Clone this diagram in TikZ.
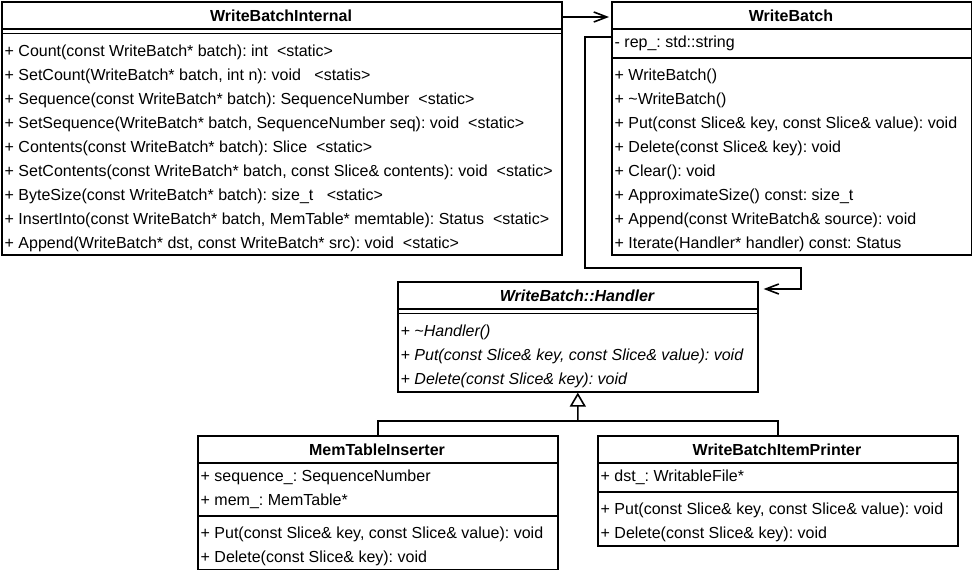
\documentclass[tikz,border=0pt]{standalone}
\usepackage{fontspec}
\setmainfont{Liberation Sans}
\usetikzlibrary{arrows.meta,calc}
\tikzset{
 cls/.style={draw, line width=1.6pt, anchor=north west, inner sep=0pt, fill=white},
 sepline/.style={line width=1.6pt},
 row/.style={anchor=base west, inner sep=0pt, font=\fontsize{16}{19}\selectfont\frenchspacing, yshift=-1.5pt},
 irow/.style={anchor=base west, inner sep=0pt, font=\fontsize{16}{19}\selectfont\itshape\frenchspacing, yshift=-1.5pt},
 ctitle/.style={anchor=base, inner sep=0pt, font=\fontsize{16}{19}\selectfont\bfseries\frenchspacing},
 assoc/.style={line width=1.6pt, -{Straight Barb[length=13pt,width=10pt]}},
 inherit/.style={line width=1.6pt, -{Triangle[open,length=14pt,width=16pt]}},
 bus/.style={line width=1.6pt},
}
\newcommand{\gapsp}{\hspace*{0.28em}}
\begin{document}
\begin{tikzpicture}[x=1pt,y=-1pt]
\useasboundingbox (0,0) rectangle (972,570);

% ---------- WriteBatchInternal ----------
\node[cls, minimum width=560pt, minimum height=253pt] (wbi) at (1,1) {};
\draw[sepline] ($(wbi.north west)+(0,28)$) -- ($(wbi.north east)+(0,28)$);
\draw[sepline] ($(wbi.north west)+(0,32.5)$) -- ($(wbi.north east)+(0,32.5)$);
\node[ctitle] (wbiT) at (281,21) {WriteBatchInternal};
\node[row] (wbi1) at (4.5,55) {+ Count(const WriteBatch* batch): int\gapsp\gapsp<static>};
\node[row] (wbi2) at (4.5,79) {+ SetCount(WriteBatch* batch, int n): void\gapsp\gapsp\gapsp<statis>};
\node[row] (wbi3) at (4.5,103) {+ Sequence(const WriteBatch* batch): SequenceNumber\gapsp\gapsp<static>};
\node[row] (wbi4) at (4.5,127) {+ SetSequence(WriteBatch* batch, SequenceNumber seq): void\gapsp\gapsp<static>};
\node[row] (wbi5) at (4.5,151) {+ Contents(const WriteBatch* batch): Slice\gapsp\gapsp<static>};
\node[row] (wbi6) at (4.5,175) {+ SetContents(const WriteBatch* batch, const Slice\& contents): void\gapsp\gapsp<static>};
\node[row] (wbi7) at (4.5,199) {+ ByteSize(const WriteBatch* batch): size\_t\gapsp\gapsp\gapsp<static>};
\node[row] (wbi8) at (4.5,223) {+ InsertInto(const WriteBatch* batch, MemTable* memtable): Status\gapsp\gapsp<static>};
\node[row] (wbi9) at (4.5,247) {+ Append(WriteBatch* dst, const WriteBatch* src): void\gapsp\gapsp<static>};

% ---------- WriteBatch ----------
\node[cls, minimum width=360pt, minimum height=253pt] (wb) at (611,1) {};
\draw[sepline] ($(wb.north west)+(0,28)$) -- ($(wb.north east)+(0,28)$);
\draw[sepline] ($(wb.north west)+(0,57)$) -- ($(wb.north east)+(0,57)$);
\node[ctitle] (wbT) at (791,21) {WriteBatch};
\node[row] (wba1) at (614.5,46) {- rep\_: std::string};
\node[row] (wb1) at (614.5,79) {+ WriteBatch()};
\node[row] (wb2) at (614.5,103) {+ \textasciitilde WriteBatch()};
\node[row] (wb3) at (614.5,127) {+ Put(const Slice\& key, const Slice\& value): void};
\node[row] (wb4) at (614.5,151) {+ Delete(const Slice\& key): void};
\node[row] (wb5) at (614.5,175) {+ Clear(): void};
\node[row] (wb6) at (614.5,199) {+ ApproximateSize() const: size\_t};
\node[row] (wb7) at (614.5,223) {+ Append(const WriteBatch\& source): void};
\node[row] (wb8) at (614.5,247) {+ Iterate(Handler* handler) const: Status};

% ---------- WriteBatch::Handler ----------
\node[cls, minimum width=360pt, minimum height=110pt] (h) at (397,281) {};
\draw[sepline] ($(h.north west)+(0,28)$) -- ($(h.north east)+(0,28)$);
\draw[sepline] ($(h.north west)+(0,32.5)$) -- ($(h.north east)+(0,32.5)$);
\node[ctitle, font=\fontsize{16}{19}\selectfont\bfseries\itshape] (hT) at (577,301) {WriteBatch::Handler};
\node[irow] (h1) at (400.5,335) {+ \textasciitilde Handler()};
\node[irow] (h2) at (400.5,359) {+ Put(const Slice\& key, const Slice\& value): void};
\node[irow] (h3) at (400.5,383) {+ Delete(const Slice\& key): void};

% ---------- MemTableInserter ----------
\node[cls, minimum width=360pt, minimum height=134pt] (mti) at (197,435) {};
\draw[sepline] ($(mti.north west)+(0,28)$) -- ($(mti.north east)+(0,28)$);
\draw[sepline] ($(mti.north west)+(0,81)$) -- ($(mti.north east)+(0,81)$);
\node[ctitle] (mtiT) at (377,455) {MemTableInserter};
\node[row] (mtia1) at (200.5,480) {+ sequence\_: SequenceNumber};
\node[row] (mtia2) at (200.5,504) {+ mem\_: MemTable*};
\node[row] (mti1) at (200.5,537) {+ Put(const Slice\& key, const Slice\& value): void};
\node[row] (mti2) at (200.5,561) {+ Delete(const Slice\& key): void};

% ---------- WriteBatchItemPrinter ----------
\node[cls, minimum width=360pt, minimum height=110pt] (wbip) at (597,435) {};
\draw[sepline] ($(wbip.north west)+(0,28)$) -- ($(wbip.north east)+(0,28)$);
\draw[sepline] ($(wbip.north west)+(0,57)$) -- ($(wbip.north east)+(0,57)$);
\node[ctitle] (wbipT) at (777,455) {WriteBatchItemPrinter};
\node[row] (wbipa1) at (600.5,480) {+ dst\_: WritableFile*};
\node[row] (wbip1) at (600.5,513) {+ Put(const Slice\& key, const Slice\& value): void};
\node[row] (wbip2) at (600.5,537) {+ Delete(const Slice\& key): void};

% ---------- connectors ----------
\coordinate (wbiOut) at ($(wbi.north east)+(0,16)$);
\coordinate (wbIn) at ($(wb.north west)+(-2,16)$);
\draw[assoc] (wbiOut) -- (wbIn);

\coordinate (wbOut) at ($(wb.north west)+(0,36)$);
\coordinate (hIn) at ($(h.north east)+(5,8)$);
\draw[assoc] (wbOut) -- (585,37) |- (801,268) |- (hIn);

\coordinate (busC) at ($(mti.north)!0.5!(wbip.north)+(0,-14)$);
\draw[bus] (mti.north) |- (busC) -| (wbip.north);
\draw[inherit] (busC) -- (h.south);
\end{tikzpicture}
\end{document}
